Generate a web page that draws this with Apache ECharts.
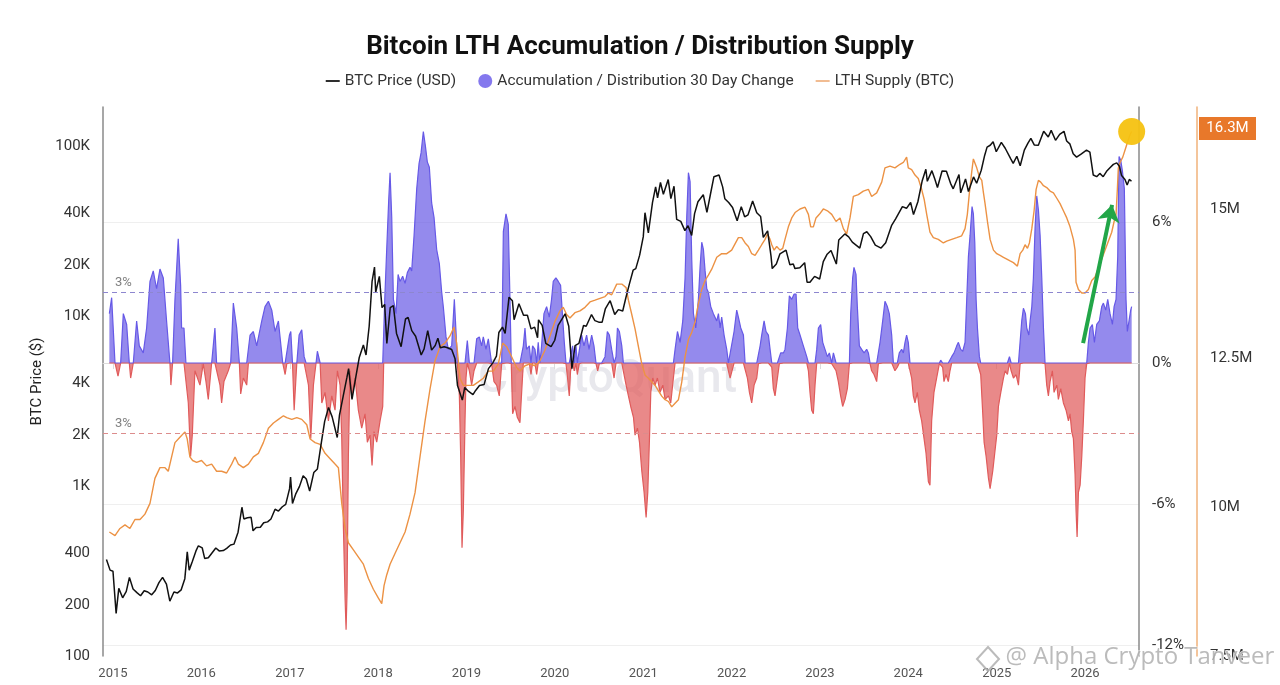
<!DOCTYPE html>
<html><head><meta charset="utf-8">
<script src="https://cdn.jsdelivr.net/npm/echarts@6/dist/echarts.min.js"></script>
<style>html,body{margin:0;padding:0;background:#fff}#c{width:1280px;height:685px}</style>
</head><body><div id="c"></div>
<script>
// BTC price (USD): [date, price]
const priceData = [['2014-12-05',370],['2014-12-20',320],['2015-01-01',315],['2015-01-14',178],['2015-01-25',250],['2015-02-10',220],['2015-02-25',240],['2015-03-10',290],['2015-03-25',248],['2015-04-10',236],['2015-04-25',226],['2015-05-10',242],['2015-05-25',238],['2015-06-10',229],['2015-06-25',243],['2015-07-10',270],['2015-07-25',290],['2015-08-10',265],['2015-08-24',210],['2015-09-10',238],['2015-09-25',235],['2015-10-10',245],['2015-10-25',285],['2015-11-04',410],['2015-11-12',320],['2015-11-25',360],['2015-12-10',415],['2015-12-20',445],['2016-01-05',432],['2016-01-15',375],['2016-01-30',378],['2016-02-15',405],['2016-03-01',432],['2016-03-15',415],['2016-04-01',417],['2016-04-15',430],['2016-05-01',450],['2016-05-15',455],['2016-06-01',535],['2016-06-17',750],['2016-06-25',640],['2016-07-10',650],['2016-07-25',655],['2016-08-02',545],['2016-08-15',570],['2016-09-01',572],['2016-09-15',608],['2016-10-01',615],['2016-10-15',640],['2016-11-01',730],['2016-11-15',712],['2016-12-01',755],['2016-12-15',780],['2016-12-31',965],['2017-01-04',1130],['2017-01-12',790],['2017-01-25',895],['2017-02-10',995],['2017-02-25',1150],['2017-03-10',1100],['2017-03-24',935],['2017-04-10',1200],['2017-04-25',1260],['2017-05-10',1750],['2017-05-25',2400],['2017-06-10',2900],['2017-06-25',2550],['2017-07-16',1930],['2017-07-25',2600],['2017-08-10',3400],['2017-08-25',4350],['2017-09-01',4900],['2017-09-15',3230],['2017-10-01',4400],['2017-10-15',5700],['2017-11-01',6750],['2017-11-12',5900],['2017-11-25',8700],['2017-12-07',16000],['2017-12-17',19400],['2017-12-22',13800],['2018-01-06',17100],['2018-01-17',11200],['2018-01-28',11700],['2018-02-06',6900],['2018-02-20',11200],['2018-03-05',11500],['2018-03-18',7900],['2018-04-06',6600],['2018-04-24',9600],['2018-05-05',9800],['2018-05-20',8200],['2018-06-05',7600],['2018-06-28',5900],['2018-07-10',6400],['2018-07-25',8200],['2018-08-10',6300],['2018-08-25',6700],['2018-09-05',7400],['2018-09-15',6500],['2018-10-01',6600],['2018-10-15',6500],['2018-11-01',6350],['2018-11-15',5600],['2018-11-25',3900],['2018-12-15',3200],['2018-12-25',3800],['2019-01-10',3600],['2019-01-28',3450],['2019-02-08',3650],['2019-02-24',3900],['2019-03-15',3950],['2019-04-02',4900],['2019-04-20',5300],['2019-05-05',5800],['2019-05-15',8000],['2019-05-30',8600],['2019-06-10',7900],['2019-06-26',12900],['2019-07-10',12300],['2019-07-17',9500],['2019-08-06',11800],['2019-08-25',10100],['2019-09-10',10100],['2019-09-25',8400],['2019-10-10',8600],['2019-10-22',7450],['2019-10-26',9500],['2019-11-10',8800],['2019-11-25',6900],['2019-12-17',6600],['2020-01-01',7200],['2020-01-15',8800],['2020-02-13',10300],['2020-02-28',8700],['2020-03-12',4900],['2020-03-25',6700],['2020-04-10',6900],['2020-04-29',8800],['2020-05-10',8700],['2020-06-01',10200],['2020-06-15',9400],['2020-07-01',9200],['2020-07-15',9200],['2020-07-28',11000],['2020-08-17',12300],['2020-09-05',10200],['2020-09-20',10900],['2020-10-08',10700],['2020-10-21',12800],['2020-11-05',15500],['2020-11-20',18600],['2020-12-01',19000],['2020-12-17',22800],['2021-01-01',29300],['2021-01-08',40500],['2021-01-22',30800],['2021-02-08',46500],['2021-02-21',57500],['2021-03-01',49500],['2021-03-13',61000],['2021-03-25',52000],['2021-04-14',63500],['2021-04-25',49000],['2021-05-08',58000],['2021-05-19',37000],['2021-06-05',36000],['2021-06-22',31800],['2021-07-05',34000],['2021-07-20',29800],['2021-08-01',40000],['2021-08-15',47000],['2021-09-06',51700],['2021-09-21',40700],['2021-10-05',51500],['2021-10-20',66000],['2021-11-10',67500],['2021-11-25',57500],['2021-12-04',49000],['2021-12-20',46500],['2022-01-05',43500],['2022-01-24',36300],['2022-02-10',44000],['2022-02-24',38300],['2022-03-10',39400],['2022-03-29',47500],['2022-04-15',40500],['2022-05-01',38500],['2022-05-12',29000],['2022-05-30',31700],['2022-06-13',22500],['2022-06-18',19000],['2022-07-05',20200],['2022-07-20',23200],['2022-08-14',24400],['2022-08-30',20000],['2022-09-13',20200],['2022-09-20',19000],['2022-10-10',19200],['2022-10-30',20600],['2022-11-09',15800],['2022-11-21',15800],['2022-12-10',17100],['2022-12-31',16500],['2023-01-15',20900],['2023-01-31',23100],['2023-02-16',24300],['2023-03-10',20200],['2023-03-20',28000],['2023-04-14',30400],['2023-04-30',29200],['2023-05-15',27200],['2023-06-15',25100],['2023-06-30',30500],['2023-07-14',31300],['2023-07-30',29300],['2023-08-18',26100],['2023-09-11',25100],['2023-09-30',27000],['2023-10-24',34000],['2023-11-10',37300],['2023-12-08',44000],['2023-12-25',43000],['2024-01-11',46500],['2024-01-23',39500],['2024-02-10',47000],['2024-02-28',62500],['2024-03-14',73000],['2024-03-20',62000],['2024-04-08',71600],['2024-04-20',64000],['2024-05-01',57000],['2024-05-20',71300],['2024-06-07',71000],['2024-06-24',60300],['2024-07-05',56000],['2024-07-29',68000],['2024-08-05',53000],['2024-08-25',64000],['2024-09-06',54000],['2024-09-27',65800],['2024-10-10',60400],['2024-10-29',72000],['2024-11-12',88000],['2024-11-22',98500],['2024-12-05',101000],['2024-12-17',106000],['2024-12-30',92500],['2025-01-20',105000],['2025-02-05',97000],['2025-02-28',84000],['2025-03-10',79000],['2025-03-25',87000],['2025-04-08',76500],['2025-04-25',94500],['2025-05-10',104000],['2025-05-22',111000],['2025-06-05',101500],['2025-06-22',101000],['2025-07-14',122000],['2025-08-02',113000],['2025-08-14',123500],['2025-09-01',108000],['2025-09-18',117000],['2025-10-06',122000],['2025-10-17',107000],['2025-10-30',103000],['2025-11-13',90000],['2025-11-27',86000],['2025-12-17',90000],['2026-01-07',94500],['2026-01-21',92000],['2026-02-04',67500],['2026-02-18',66000],['2026-03-03',69000],['2026-03-17',66000],['2026-03-31',71000],['2026-04-14',74500],['2026-04-28',78000],['2026-05-12',79600],['2026-05-23',76000],['2026-06-01',67000],['2026-06-15',63600],['2026-06-24',59000],['2026-07-03',63600],['2026-07-12',62000]];

// Accumulation / Distribution 30 day change (%): [decimal year, value]
const adData = [[2014.959,2.10],[2014.985,2.78],[2015.023,0],[2015.057,-0.56],[2015.087,0],[2015.117,2.10],[2015.155,1.64],[2015.185,0],[2015.200,-0.64],[2015.230,0],[2015.268,1.79],[2015.298,0.73],[2015.343,0.43],[2015.381,1.49],[2015.419,3.47],[2015.456,3.92],[2015.494,3.16],[2015.532,4.00],[2015.570,3.62],[2015.607,1.79],[2015.645,0],[2015.656,-0.94],[2015.675,0],[2015.702,2.71],[2015.739,5.29],[2015.766,3.31],[2015.777,1.49],[2015.804,1.49],[2015.826,0],[2015.853,-1.70],[2015.879,-3.98],[2015.898,-3.07],[2015.928,-0.33],[2015.985,-0.94],[2016.022,-0.03],[2016.053,-0.79],[2016.079,-1.55],[2016.117,0],[2016.154,1.49],[2016.173,0],[2016.211,-0.94],[2016.230,-1.70],[2016.256,-0.79],[2016.305,-0.33],[2016.332,0],[2016.362,2.55],[2016.400,1.49],[2016.430,0],[2016.445,-1.32],[2016.475,-0.64],[2016.513,-0.94],[2016.532,0],[2016.551,1.19],[2016.588,1.34],[2016.626,0.73],[2016.683,1.79],[2016.720,2.40],[2016.758,2.63],[2016.796,2.25],[2016.833,1.34],[2016.871,1.79],[2016.920,0],[2016.947,-0.49],[2016.966,-0.03],[2016.996,1.19],[2017.011,1.34],[2017.030,0],[2017.049,-2.01],[2017.079,0],[2017.105,1.19],[2017.135,1.41],[2017.162,0.27],[2017.184,0],[2017.211,-0.94],[2017.237,-3.22],[2017.267,-0.94],[2017.297,0],
[2017.312,0.50],[2017.343,0],[2017.362,-1.70],[2017.399,-1.25],[2017.437,-2.46],[2017.475,-1.40],[2017.512,-2.01],[2017.539,-0.33],[2017.569,-0.94],[2017.588,-3.22],[2017.607,-7.02],[2017.626,-10.06],[2017.637,-11.35],[2017.648,-9.76],[2017.663,-3.98],[2017.682,-0.33],[2017.701,-1.40],[2017.739,-0.64],[2017.776,-2.01],[2017.814,-2.77],[2017.852,-2.16],[2017.878,-3.37],[2017.908,-3.07],[2017.931,-4.36],[2017.954,-2.92],[2017.984,-3.37],[2018.022,-2.46],[2018.052,-1.85],[2018.063,0],[2018.075,2.71],[2018.097,4.83],[2018.120,6.96],[2018.135,8.10],[2018.154,6.20],[2018.173,2.71],[2018.203,2.10],[2018.226,3.77],[2018.248,3.47],[2018.278,3.69],[2018.305,3.39],[2018.331,3.85],[2018.361,4.07],[2018.380,3.92],[2018.407,5.44],[2018.437,7.42],[2018.463,8.48],[2018.486,8.94],[2018.512,9.85],[2018.535,9.24],[2018.557,8.56],[2018.580,8.33],[2018.606,6.81],[2018.633,6.20],[2018.663,4.83],[2018.693,4.23],[2018.720,3.01],[2018.738,2.40],[2018.769,1.11],[2018.795,0.58],[2018.833,0.73],[2018.863,2.71],[2018.882,1.34],[2018.897,0],[2018.920,-1.40],[2018.935,-3.98],[2018.950,-7.86],[2018.965,-6.26],[2018.984,-2.46],[2018.995,-0.64],[2019.010,0.96],[2019.033,-0.33],[2019.059,-0.94],[2019.086,-0.33],[2019.116,1.03],[2019.146,1.11],[2019.172,0.73],[2019.191,1.11],[2019.221,0.58],[2019.248,1.03],[2019.285,-0.03],[2019.312,-0.79],[2019.342,-0.94],[2019.372,-1.40],[2019.399,-0.03],[2019.418,5.59],[2019.448,6.35],[2019.474,5.90],[2019.493,2.71],[2019.508,-0.03],[2019.523,-2.16],[2019.550,-1.85],[2019.576,-2.31],[2019.606,-2.54],
[2019.644,0.73],[2019.663,1.49],[2019.681,0.58],[2019.712,0.73],[2019.731,-0.49],[2019.749,0.73],[2019.776,0.58],[2019.795,-0.49],[2019.813,0.88],[2019.832,-0.03],[2019.851,0.73],[2019.878,2.10],[2019.908,2.40],[2019.938,1.95],[2019.964,2.71],[2019.983,3.47],[2020.013,3.62],[2020.040,3.47],[2020.066,3.31],[2020.089,1.95],[2020.108,0.88],[2020.127,-0.03],[2020.145,-0.64],[2020.164,-1.40],[2020.179,-0.33],[2020.202,0.73],[2020.221,-0.33],[2020.240,0.73],[2020.255,-0.49],[2020.277,-0.03],[2020.304,1.19],[2020.330,0.73],[2020.360,1.19],[2020.387,0.58],[2020.417,1.19],[2020.443,0.73],[2020.466,-0.03],[2020.485,-0.33],[2020.504,-0.03],[2020.530,-0.03],[2020.568,0.27],[2020.594,1.34],[2020.617,1.19],[2020.643,0.58],[2020.670,-0.64],[2020.692,0.27],[2020.708,1.49],[2020.730,1.34],[2020.757,0.73],[2020.775,-0.03],[2020.806,-0.94],[2020.832,-1.40],[2020.858,-1.85],[2020.889,-2.31],[2020.907,-3.07],[2020.934,-2.77],[2020.957,-3.37],[2020.983,-4.59],[2021.009,-5.50],[2021.032,-6.57],[2021.051,-5.50],[2021.070,-3.22],[2021.085,-1.25],[2021.107,-0.64],[2021.134,-0.94],[2021.160,-0.64],[2021.190,-1.25],[2021.221,-0.94],[2021.247,-1.55],[2021.285,-1.40],[2021.311,-1.70],[2021.341,-0.64],[2021.360,0.58],[2021.387,1.34],[2021.417,0.88],[2021.447,1.79],[2021.473,3.62],[2021.492,6.20],[2021.511,8.10],[2021.530,7.72],[2021.549,4.38],[2021.568,2.10],[2021.594,1.49],[2021.624,2.71],[2021.643,4.07],[2021.662,5.14],[2021.681,4.83],[2021.700,3.92],[2021.719,3.16],[2021.737,3.01],[2021.764,2.40],[2021.794,2.10],[2021.832,1.79],[2021.851,2.10],[2021.870,1.49],[2021.888,1.95],[2021.915,1.19],[2021.945,0.58],[2021.964,-0.33],[2021.983,-0.64],
[2022.028,1.34],[2022.058,2.25],[2022.077,1.95],[2022.104,1.49],[2022.134,1.19],[2022.153,-0.03],[2022.179,-0.64],[2022.202,-1.25],[2022.228,-1.70],[2022.255,-0.94],[2022.285,-0.64],[2022.304,-0.03],[2022.323,0.73],[2022.341,1.19],[2022.368,1.79],[2022.390,1.34],[2022.417,1.19],[2022.436,0.58],[2022.455,-0.18],[2022.473,-1.09],[2022.492,-1.40],[2022.519,-0.64],[2022.541,-0.03],[2022.556,0.43],[2022.587,0.43],[2022.605,0.58],[2022.632,1.49],[2022.654,2.86],[2022.681,2.71],[2022.707,2.93],[2022.730,2.93],[2022.749,1.49],[2022.775,1.19],[2022.813,0.73],[2022.851,0.27],[2022.870,-0.33],[2022.888,-1.25],[2022.907,-2.01],[2022.926,-2.16],[2022.945,-0.94],[2022.964,0.58],[2022.983,1.49],[2023.009,1.64],[2023.032,0.88],[2023.058,0.58],[2023.085,0.27],[2023.107,0.43],[2023.134,-0.03],[2023.153,0.43],[2023.183,-0.33],[2023.209,-0.79],[2023.235,-1.40],[2023.258,-1.85],[2023.285,-1.55],[2023.311,-1.09],[2023.334,-0.03],[2023.349,2.10],[2023.371,3.62],[2023.386,4.07],[2023.409,3.77],[2023.424,2.40],[2023.447,0.73],[2023.473,0.58],[2023.500,0.43],[2023.530,0.58],[2023.549,0.43],[2023.568,-0.03],[2023.586,-0.33],[2023.613,-0.49],[2023.643,-0.79],[2023.662,-0.03],[2023.681,0.88],[2023.711,1.79],[2023.737,2.63],[2023.764,2.40],[2023.786,2.10],[2023.813,1.19],[2023.832,-0.03],[2023.850,-0.33],[2023.877,-0.18],[2023.899,0.43],[2023.926,0.58],[2023.945,0.43],[2023.964,0.88],[2023.982,1.19],[2024.001,0.88],[2024.020,-0.03],[2024.039,-0.64],[2024.058,-1.40],[2024.077,-1.70],[2024.103,-1.25],[2024.126,-2.01],[2024.152,-2.46],[2024.179,-3.22],[2024.201,-3.83],[2024.228,-5.05],[2024.246,-5.20],
[2024.265,-2.46],[2024.291,-1.25],[2024.321,-0.64],[2024.352,-0.03],[2024.367,0.12],[2024.389,-0.18],[2024.404,-0.79],[2024.427,-0.49],[2024.453,-0.79],[2024.472,-0.33],[2024.491,0.27],[2024.518,0.43],[2024.548,0.73],[2024.567,0.88],[2024.593,0.58],[2024.616,0.50],[2024.642,0.88],[2024.661,2.71],[2024.680,4.53],[2024.699,5.44],[2024.721,6.66],[2024.736,6.35],[2024.752,5.14],[2024.767,2.71],[2024.782,1.49],[2024.804,0.27],[2024.819,-0.49],[2024.842,-2.16],[2024.857,-3.37],[2024.880,-3.98],[2024.906,-4.89],[2024.925,-5.35],[2024.955,-4.59],[2024.982,-3.68],[2025.000,-3.07],[2025.019,-1.85],[2025.046,-1.25],[2025.076,-0.64],[2025.095,-0.33],[2025.121,-0.49],[2025.144,0.27],[2025.163,-0.33],[2025.189,-0.64],[2025.219,-0.49],[2025.246,-0.94],[2025.265,-0.03],[2025.283,1.79],[2025.302,2.33],[2025.325,2.10],[2025.340,1.49],[2025.363,1.19],[2025.378,1.79],[2025.397,2.40],[2025.415,3.62],[2025.434,5.75],[2025.453,7.11],[2025.472,6.51],[2025.491,5.44],[2025.510,3.62],[2025.529,1.49],[2025.547,-0.03],[2025.566,-0.94],[2025.585,-1.40],[2025.604,-0.79],[2025.630,-0.33],[2025.649,-1.25],[2025.680,-0.94],[2025.698,-1.55],[2025.725,-1.09],[2025.755,-1.70],[2025.785,-2.01],[2025.812,-2.46],[2025.830,-2.16],[2025.849,-2.92],[2025.868,-3.22],[2025.887,-4.74],[2025.898,-6.26],[2025.910,-7.40],[2025.925,-5.50],[2025.944,-5.20],[2025.963,-3.98],[2025.981,-2.46],[2026.000,-0.64],[2026.019,-0.03],[2026.038,0.88],[2026.057,1.49],[2026.083,1.64],[2026.106,0.88],[2026.132,1.64],[2026.162,1.79],[2026.189,2.40],[2026.208,2.55],[2026.234,2.25],[2026.257,2.71],[2026.283,2.10],[2026.310,1.64],[2026.329,2.40],[2026.351,2.71],[2026.370,4.53],[2026.385,8.79],[2026.404,8.63],[2026.423,8.18],[2026.445,7.42],[2026.464,2.71],[2026.479,1.34],[2026.498,1.79],[2026.517,2.25],[2026.528,2.40]];

// LTH supply (million BTC): [decimal year, value]
const lthData = [[2014.959,9.58],[2015.023,9.52],[2015.079,9.64],[2015.136,9.70],[2015.192,9.64],[2015.249,9.79],[2015.306,9.79],[2015.362,9.88],[2015.419,10.06],[2015.475,10.48],[2015.532,10.66],[2015.589,10.66],[2015.626,10.60],[2015.664,10.84],[2015.702,11.08],[2015.758,11.17],[2015.815,11.26],[2015.841,11.14],[2015.871,10.84],[2015.902,10.78],[2015.947,10.75],[2016.003,10.78],[2016.060,10.69],[2016.117,10.72],[2016.173,10.60],[2016.230,10.60],[2016.286,10.57],[2016.343,10.72],[2016.381,10.84],[2016.418,10.72],[2016.475,10.66],[2016.532,10.72],[2016.588,10.84],[2016.645,10.90],[2016.701,11.08],[2016.758,11.32],[2016.815,11.41],[2016.871,11.47],[2016.928,11.53],[2016.965,11.50],[2017.022,11.47],[2017.079,11.50],[2017.135,11.47],[2017.192,11.38],[2017.230,11.14],[2017.286,11.08],
[2017.343,11.05],[2017.399,10.90],[2017.456,10.81],[2017.512,10.72],[2017.550,10.66],[2017.588,10.06],[2017.626,9.64],[2017.663,9.40],[2017.720,9.28],[2017.777,9.16],[2017.833,9.04],[2017.890,8.80],[2017.946,8.62],[2018.003,8.47],[2018.041,8.38],[2018.067,8.68],[2018.097,8.86],[2018.135,9.04],[2018.191,9.22],[2018.248,9.40],[2018.305,9.58],[2018.361,9.88],[2018.418,10.24],[2018.474,10.84],[2018.531,11.44],[2018.588,11.98],[2018.644,12.45],[2018.701,12.69],[2018.757,12.75],[2018.814,12.87],[2018.859,13.02],[2018.889,12.75],[2018.927,12.16],[2018.965,12.04],[2019.021,12.04],[2019.078,12.04],[2019.135,12.10],[2019.191,12.16],[2019.248,12.28],[2019.304,12.28],[2019.361,12.40],[2019.410,12.75],[2019.455,12.69],[2019.512,12.52],[2019.568,12.34],
[2019.606,12.28],[2019.663,12.37],[2019.719,12.40],[2019.776,12.37],[2019.832,12.45],[2019.889,12.63],[2019.946,12.87],[2020.002,13.11],[2020.059,13.29],[2020.096,13.35],[2020.134,13.23],[2020.172,13.17],[2020.228,13.26],[2020.285,13.29],[2020.342,13.35],[2020.398,13.44],[2020.455,13.47],[2020.511,13.50],[2020.568,13.53],[2020.606,13.59],[2020.643,13.56],[2020.700,13.74],[2020.757,13.74],[2020.806,13.68],[2020.832,13.47],[2020.870,13.23],[2020.907,12.99],[2020.945,12.69],[2020.983,12.40],[2021.021,12.21],[2021.058,12.16],[2021.096,12.10],[2021.134,12.04],[2021.172,11.95],[2021.209,11.86],[2021.247,11.80],[2021.285,11.77],[2021.322,11.68],[2021.360,11.74],[2021.398,11.80],[2021.436,12.10],[2021.473,12.52],[2021.511,12.81],[2021.549,12.93],[2021.587,13.11],[2021.624,13.41],[2021.662,13.65],[2021.700,13.80],[2021.737,13.89],[2021.775,13.99],[2021.832,14.19],[2021.888,14.25],[2021.945,14.25],[2022.001,14.31],
[2022.077,14.52],[2022.115,14.52],[2022.153,14.43],[2022.190,14.37],[2022.228,14.25],[2022.266,14.22],[2022.304,14.31],[2022.341,14.40],[2022.379,14.49],[2022.406,14.58],[2022.436,14.49],[2022.455,14.40],[2022.481,14.31],[2022.511,14.37],[2022.549,14.31],[2022.579,14.34],[2022.605,14.49],[2022.643,14.70],[2022.681,14.85],[2022.719,14.94],[2022.775,15.00],[2022.832,15.03],[2022.870,14.91],[2022.896,14.70],[2022.926,14.70],[2022.956,14.85],[2022.994,14.91],[2023.039,15.00],[2023.085,14.97],[2023.134,14.91],[2023.183,14.79],[2023.228,14.85],[2023.266,14.67],[2023.303,14.58],[2023.341,14.85],[2023.379,15.21],[2023.435,15.24],[2023.492,15.30],[2023.549,15.33],[2023.586,15.21],[2023.643,15.27],[2023.700,15.45],[2023.737,15.69],[2023.794,15.72],[2023.850,15.69],[2023.907,15.75],[2023.945,15.78],[2023.982,15.87],[2024.001,15.69],[2024.039,15.66],[2024.077,15.57],[2024.114,15.51],[2024.152,15.33],[2024.182,15.15],[2024.209,14.91],[2024.246,14.61],
[2024.284,14.52],[2024.340,14.49],[2024.397,14.43],[2024.435,14.46],[2024.491,14.49],[2024.548,14.52],[2024.604,14.55],[2024.642,14.67],[2024.668,14.91],[2024.691,15.27],[2024.718,15.63],[2024.736,15.84],[2024.755,15.84],[2024.774,15.69],[2024.804,15.54],[2024.831,15.48],[2024.850,15.27],[2024.868,15.09],[2024.895,14.79],[2024.925,14.49],[2024.963,14.31],[2025.000,14.25],[2025.038,14.22],[2025.076,14.19],[2025.114,14.16],[2025.151,14.13],[2025.189,14.10],[2025.234,14.04],[2025.265,14.25],[2025.295,14.31],[2025.321,14.40],[2025.348,14.34],[2025.370,14.43],[2025.397,14.67],[2025.423,14.97],[2025.446,15.33],[2025.472,15.48],[2025.498,15.45],[2025.529,15.39],[2025.566,15.36],[2025.604,15.30],[2025.642,15.27],[2025.680,15.18],[2025.717,15.09],[2025.755,14.97],[2025.793,14.85],[2025.830,14.70],[2025.868,14.49],[2025.887,14.31],[2025.898,13.77],[2025.925,13.65],[2025.963,13.59],[2026.000,13.59],[2026.038,13.65],[2026.076,13.80],[2026.113,13.86],[2026.151,14.01],[2026.189,14.16],[2026.227,14.31],[2026.264,14.46],[2026.302,14.61],[2026.329,14.79],[2026.351,14.91],[2026.366,15.33],[2026.377,15.69],[2026.396,15.78],[2026.427,15.87],[2026.453,15.99],[2026.479,16.11],[2026.510,16.25],[2026.528,16.30]];

const priceTicks = [100, 200, 400, 1000, 2000, 4000, 10000, 20000, 40000, 100000];
const pctTicks = [-12, -6, 0, 6];
const lthTicks = [7.5, 10, 12.5, 15];
const thresholdLines = [3, -3];
const lthLatestLabel = '16.3M';
const arrowStart = [2025.978, 12.75];
const arrowEnd = [2026.306, 15.07];
const xRange = [2014.887, 2026.611];

function yt(y) {
  const yr = Math.floor(y);
  const s = Date.UTC(yr, 0, 1), e = Date.UTC(yr + 1, 0, 1);
  return s + (y - yr) * (e - s);
}

const FONT = 'Roboto, "Noto Sans", sans-serif';
const PURPLE = '#6659e6';
const RED = '#e05b5b';
const ORANGE = '#ec9244';
const AD_NAME = 'Accumulation / Distribution 30 Day Change';

const chart = echarts.init(document.getElementById('c'), null, { renderer: 'canvas' });
const adPts = adData.map(p => [yt(p[0]), p[1]]);
const adPos = adPts.map(p => [p[0], Math.max(p[1], 0)]);
const adNeg = adPts.map(p => [p[0], Math.min(p[1], 0)]);
const lthPts = lthData.map(p => [yt(p[0]), p[1]]);
const lastLth = lthPts[lthPts.length - 1];
const LINE_ICON = 'path://M0,0L16,0L16,2L0,2Z';

chart.setOption({
  animation: false,
  backgroundColor: '#ffffff',
  textStyle: { fontFamily: FONT },
  title: {
    text: 'Bitcoin LTH Accumulation / Distribution Supply',
    left: 'center', top: 29,
    textStyle: { fontSize: 26, fontWeight: 'bold', color: '#111', fontFamily: FONT }
  },
  legend: {
    top: 68, left: 'center', itemGap: 22, itemWidth: 14, itemHeight: 14,
    textStyle: { fontSize: 15.5, color: '#333', fontFamily: FONT },
    data: [
      { name: 'BTC Price (USD)', icon: LINE_ICON, itemStyle: { color: '#111' } },
      { name: AD_NAME, icon: 'circle', itemStyle: { color: '#8478ee' } },
      { name: 'LTH Supply (BTC)', icon: LINE_ICON, itemStyle: { color: '#efb383' } }
    ]
  },
  grid: { left: 103, right: 141, top: 107, bottom: 29, containLabel: false },
  xAxis: {
    type: 'time',
    min: yt(xRange[0]), max: yt(xRange[1]),
    minInterval: 365 * 86400000, maxInterval: 366 * 86400000,
    axisLine: { show: true, lineStyle: { color: '#dcdcdc' } },
    axisTick: { show: true, length: 6, lineStyle: { color: '#dcdcdc' } },
    splitLine: { show: false },
    axisLabel: { formatter: '{yyyy}', fontSize: 13, color: '#555', margin: 11 }
  },
  yAxis: [
    {
      type: 'log', logBase: 10, min: 100, max: 169600, position: 'left',
      name: 'BTC Price ($)', nameLocation: 'middle', nameGap: 58, nameRotate: 90,
      nameTextStyle: { fontSize: 15, color: '#222' },
      axisLine: { show: true, lineStyle: { color: '#8a8a8a', width: 1.5 } },
      axisTick: { show: false, customValues: priceTicks },
      splitLine: { show: false },
      axisLabel: {
        customValues: priceTicks, fontSize: 15, color: '#333', margin: 13,
        formatter: v => (v >= 1000 ? (v / 1000) + 'K' : String(v))
      }
    },
    {
      type: 'value', min: -12.468, max: 10.894, position: 'right',
      axisLine: { show: true, lineStyle: { color: '#8a8a8a', width: 1.5 } },
      axisTick: { show: false, customValues: pctTicks },
      splitLine: { show: true, lineStyle: { color: '#efefef', width: 1 } },
      axisLabel: { customValues: pctTicks, fontSize: 15, color: '#333', margin: 13, formatter: v => v + '%' }
    },
    {
      type: 'value', min: 7.5, max: 16.711, position: 'right', offset: 58,
      axisLine: { show: true, lineStyle: { color: '#f0b27a', width: 1.5 } },
      axisTick: { show: false, customValues: lthTicks },
      splitLine: { show: false },
      axisLabel: { customValues: lthTicks, fontSize: 15, color: '#333', margin: 13, formatter: v => v + 'M' }
    }
  ],
  graphic: [
    {
      type: 'text', left: 478, top: 357, z: 0, silent: true,
      style: { text: 'CryptoQuant', fontSize: 46, fontWeight: 500, fill: 'rgba(200,200,212,0.42)', fontFamily: FONT }
    },
    {
      type: 'group', left: 1199, top: 117, z: 100,
      children: [
        { type: 'rect', shape: { x: 0, y: 0, width: 57, height: 23 }, style: { fill: '#e8782a' } },
        { type: 'text', x: 28.5, y: 11.5, style: { text: lthLatestLabel, fill: '#fff', fontSize: 15, fontFamily: FONT, align: 'center', verticalAlign: 'middle' } }
      ]
    },
    {
      type: 'polygon', z: 100, silent: true,
      shape: { points: [[988, 647], [999, 659], [988, 671], [977, 659]] },
      style: { fill: 'none', stroke: 'rgba(175,175,175,0.85)', lineWidth: 2 }
    },
    {
      type: 'text', left: 1005, top: 645, z: 100, silent: true,
      style: { text: '@ Alpha Crypto Tanveer', fontSize: 24, fill: 'rgba(175,175,175,0.85)', stroke: 'rgba(255,255,255,0.8)', lineWidth: 1, fontFamily: '"Open Sans", sans-serif' }
    }
  ],
  series: [
    {
      name: 'A/D negative',
      type: 'line', yAxisIndex: 1, symbol: 'none', showSymbol: false,
      color: RED,
      lineStyle: { width: 1.2, color: RED },
      areaStyle: { color: RED, opacity: 0.72 },
      data: adNeg
    },
    {
      name: AD_NAME,
      type: 'line', yAxisIndex: 1, symbol: 'none', showSymbol: false,
      color: PURPLE,
      lineStyle: { width: 1.2, color: PURPLE },
      areaStyle: { color: PURPLE, opacity: 0.7 },
      data: adPos,
      markLine: {
        silent: true, symbol: 'none',
        label: { show: true, position: 'insideStartTop', formatter: '3%', color: '#808080', fontSize: 13, distance: [12, 3] },
        data: [
          { yAxis: thresholdLines[0], lineStyle: { color: '#8d86cf', type: [5, 4], width: 1 } },
          { yAxis: thresholdLines[1], lineStyle: { color: '#dc8c8c', type: [5, 4], width: 1 } }
        ]
      }
    },
    {
      name: 'LTH Supply (BTC)',
      type: 'line', yAxisIndex: 2, symbol: 'none', showSymbol: false,
      color: ORANGE,
      lineStyle: { width: 1.4, color: ORANGE },
      data: lthPts,
      markPoint: {
        silent: true, symbol: 'circle', symbolSize: 27,
        itemStyle: { color: '#f5c211', opacity: 0.95 },
        label: { show: false },
        data: [{ coord: lastLth }]
      },
      markLine: {
        silent: true, symbol: ['none', 'arrow'], symbolSize: 17,
        label: { show: false },
        lineStyle: { color: '#22a648', width: 4, type: 'solid' },
        data: [[{ coord: [yt(arrowStart[0]), arrowStart[1]] }, { coord: [yt(arrowEnd[0]), arrowEnd[1]] }]]
      }
    },
    {
      name: 'BTC Price (USD)',
      type: 'line', yAxisIndex: 0, symbol: 'none', showSymbol: false,
      color: '#111',
      lineStyle: { width: 1.5, color: '#111' },
      data: priceData
    }
  ]
});
</script>
</body></html>
